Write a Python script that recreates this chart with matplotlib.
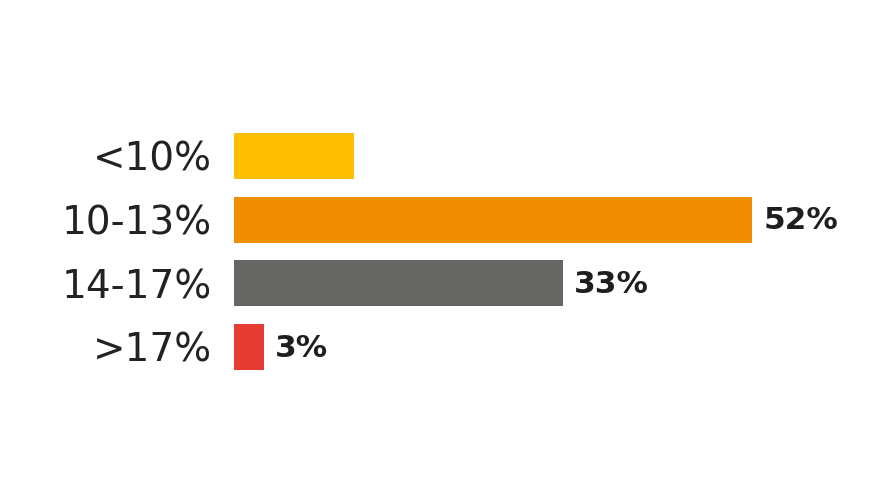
import matplotlib
matplotlib.use('Agg')
import matplotlib.pyplot as plt

categories = ['<10%', '10-13%', '14-17%', '>17%']
values = [12, 52, 33, 3]
value_labels = ['', '52%', '33%', '3%']
colors = ['#FDBF00', '#F08E00', '#666664', '#E63C33']

fig = plt.figure(figsize=(8.85, 4.98), dpi=100)
ax = fig.add_axes([234 / 885, 0.2394, 598 / 885, 0.5114])

pos = list(range(len(categories)))
ax.barh(pos, values, height=0.722, color=colors)

for y, v, lab in zip(pos, values, value_labels):
    if lab:
        ax.text(v + 1.1, y + 0.02, lab, va='center', ha='left',
                fontsize=22.5, fontweight='bold', color='#1e1e1e',
                family='DejaVu Sans')

ax.set_xlim(0, 60)
ax.set_ylim(3.5, -0.5)
ax.set_yticks(pos)
ax.set_yticklabels(categories, fontsize=28, color='#222222', family='DejaVu Sans')
ax.tick_params(axis='y', length=0, pad=16)
ax.set_xticks([])
for s in ax.spines.values():
    s.set_visible(False)

fig.savefig('out.png', dpi=100)
